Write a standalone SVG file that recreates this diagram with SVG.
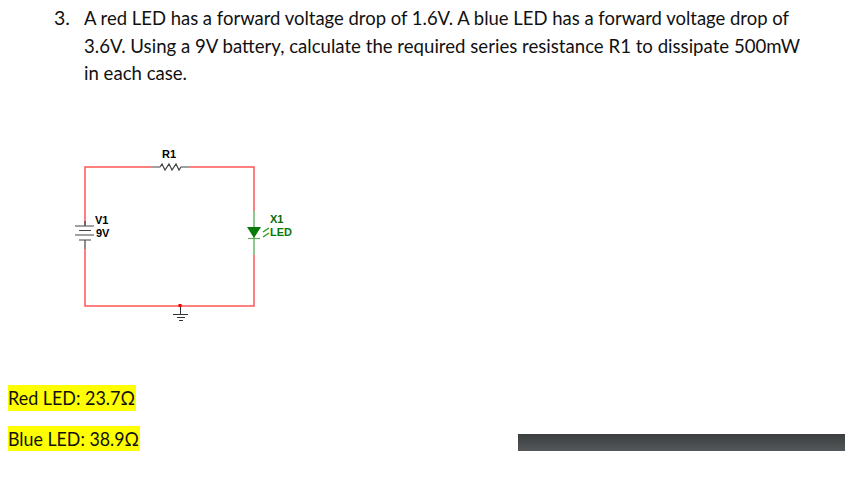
<svg xmlns="http://www.w3.org/2000/svg" width="845" height="479" viewBox="0 0 845 479">
<style>
.t{font-family:Lato,"Open Sans","Liberation Sans",sans-serif;font-size:19.5px;fill:#111}
.s{font-family:"Liberation Sans",Arial,sans-serif;font-size:11px;font-weight:bold}
.w{fill:none;stroke:#f55;stroke-width:1.5}
.g{fill:none;stroke:#6cb56c;stroke-width:1.5}
.k{fill:none;stroke:#444;stroke-width:1.2}
</style>
<defs><linearGradient id="bar" x1="0" y1="0" x2="0" y2="1"><stop offset="0" stop-color="#3b3d3e"/><stop offset="1" stop-color="#54585a"/></linearGradient></defs>
<rect width="845" height="479" fill="#fff"/>
<g id="question">
<text class="t" x="54" y="25">3.</text>
<text class="t" x="84" y="25" textLength="705" lengthAdjust="spacingAndGlyphs">A red LED has a forward voltage drop of 1.6V. A blue LED has a forward voltage drop of</text>
<text class="t" x="84" y="53" textLength="716" lengthAdjust="spacingAndGlyphs">3.6V. Using a 9V battery, calculate the required series resistance R1 to dissipate 500mW</text>
<text class="t" x="84" y="80" textLength="103" lengthAdjust="spacingAndGlyphs">in each case.</text>
</g>
<g id="connectors">
<path class="w" d="M85 225V167H151M189 167H254V211M254 255V306H85V249"/>
</g>
<g id="V1">
<path class="k" d="M85 221V226M75 226H94M79 230.500H91M75 235H94M79 240H91M85 240V249"/>
<text class="s" x="95" y="223.500">V1</text>
<text class="s" x="96" y="236.500">9V</text>
</g>
<g id="R1">
<path class="k" d="M151 167H160L162 164L165 170L169 164L172 170L176 164L179 170L181 167H189"/>
<text class="s" x="162" y="158">R1</text>
</g>
<g id="X1">
<path class="g" d="M254 211V255"/>
<path d="M247 227H261L254 238Z" fill="#0a7a0a"/>
<path d="M248 238.500H260" stroke="#5fae5f" stroke-width="1.2"/>
<path d="M263 232L269 228M263 237L269 233" stroke="#1f9a1f" stroke-width="1.4"/>
<text class="s" x="270" y="223" fill="#0a6a0a">X1</text>
<text class="s" x="270" y="236" fill="#0a7a0a">LED</text>
</g>
<g id="ground">
<path d="M180.500 306V314M173 314.500H188M177 317.500H185M179 320.500H183" stroke="#333" stroke-width="1" fill="none"/>
<rect x="178.500" y="304" width="3" height="3" fill="#e00"/>
</g>
<g id="answers">
<rect x="8" y="385" width="128" height="26" fill="#ff0"/>
<rect x="8" y="426" width="132" height="25" fill="#ff0"/>
<text class="t" x="8" y="405" textLength="127" lengthAdjust="spacingAndGlyphs">Red LED: 23.7Ω</text>
<text class="t" x="8" y="446" textLength="131" lengthAdjust="spacingAndGlyphs">Blue LED: 38.9Ω</text>
</g>
<rect id="bar-strip" x="518" y="434" width="327" height="17" fill="url(#bar)"/>
</svg>
